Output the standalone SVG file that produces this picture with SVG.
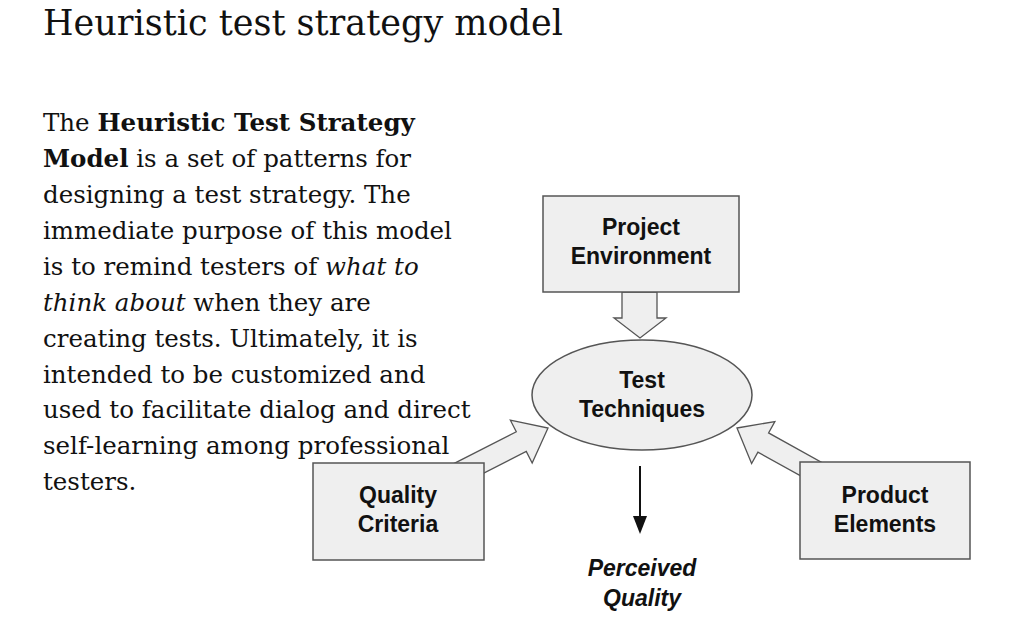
<svg xmlns="http://www.w3.org/2000/svg" width="1024" height="627" viewBox="0 0 1024 627">
<style>
.t{font-family:"DejaVu Serif",Georgia,serif;font-size:24.5px;fill:#111}
.n{font-family:"Liberation Sans",Arial,sans-serif;font-size:23px;font-weight:bold;fill:#111;text-anchor:middle}
.box{fill:#efefef;stroke:#555;stroke-width:1.5}
.ba{fill:#efefef;stroke:#555;stroke-width:1.3}
</style>
<rect width="1024" height="627" fill="#fff"/>
<text x="43" y="35" font-family="DejaVu Serif,Georgia,serif" font-size="35" fill="#111">Heuristic test strategy model</text>
<g class="t">
<text x="43" y="131">The <tspan font-weight="bold">Heuristic Test Strategy</tspan></text>
<text x="43" y="167"><tspan font-weight="bold">Model</tspan> is a set of patterns for</text>
<text x="43" y="203">designing a test strategy. The</text>
<text x="43" y="239">immediate purpose of this model</text>
<text x="43" y="275">is to remind testers of <tspan font-style="italic">what to</tspan></text>
<text x="43" y="311"><tspan font-style="italic">think about</tspan> when they are</text>
<text x="43" y="347">creating tests. Ultimately, it is</text>
<text x="43" y="383">intended to be customized and</text>
<text x="43" y="418">used to facilitate dialog and direct</text>
<text x="43" y="454">self-learning among professional</text>
<text x="43" y="490">testers.</text>
</g>
<g id="connectors">
<polygon class="ba" points="622,292 657,292 657,318 666,318 640,338 614,318 622,318"/>
<polygon class="ba" transform="translate(548,428) rotate(153)" points="0,0 30,-24 30,-11 115,-11 115,11 30,11 30,24"/>
<polygon class="ba" transform="translate(737,428) rotate(29)" points="0,0 30,-24 30,-11 115,-11 115,11 30,11 30,24"/>
<line x1="640" y1="466" x2="640" y2="520" stroke="#111" stroke-width="2"/>
<polygon points="633,516 647,516 640,534" fill="#111"/>
</g>
<g id="project"><rect class="box" x="543" y="196" width="196" height="96"/>
<text class="n" x="641" y="235">Project</text><text class="n" x="641" y="264">Environment</text></g>
<g id="techniques"><ellipse class="box" cx="642" cy="395" rx="110" ry="55"/>
<text class="n" x="642" y="388">Test</text><text class="n" x="642" y="417">Techniques</text></g>
<g id="quality"><rect class="box" x="313" y="463" width="171" height="97"/>
<text class="n" x="398" y="503">Quality</text><text class="n" x="398" y="532">Criteria</text></g>
<g id="product"><rect class="box" x="800" y="462" width="170" height="97"/>
<text class="n" x="885" y="503">Product</text><text class="n" x="885" y="532">Elements</text></g>
<g id="perceived"><text class="n" x="642" y="576" font-style="italic">Perceived</text><text class="n" x="642" y="606" font-style="italic">Quality</text></g>
</svg>
